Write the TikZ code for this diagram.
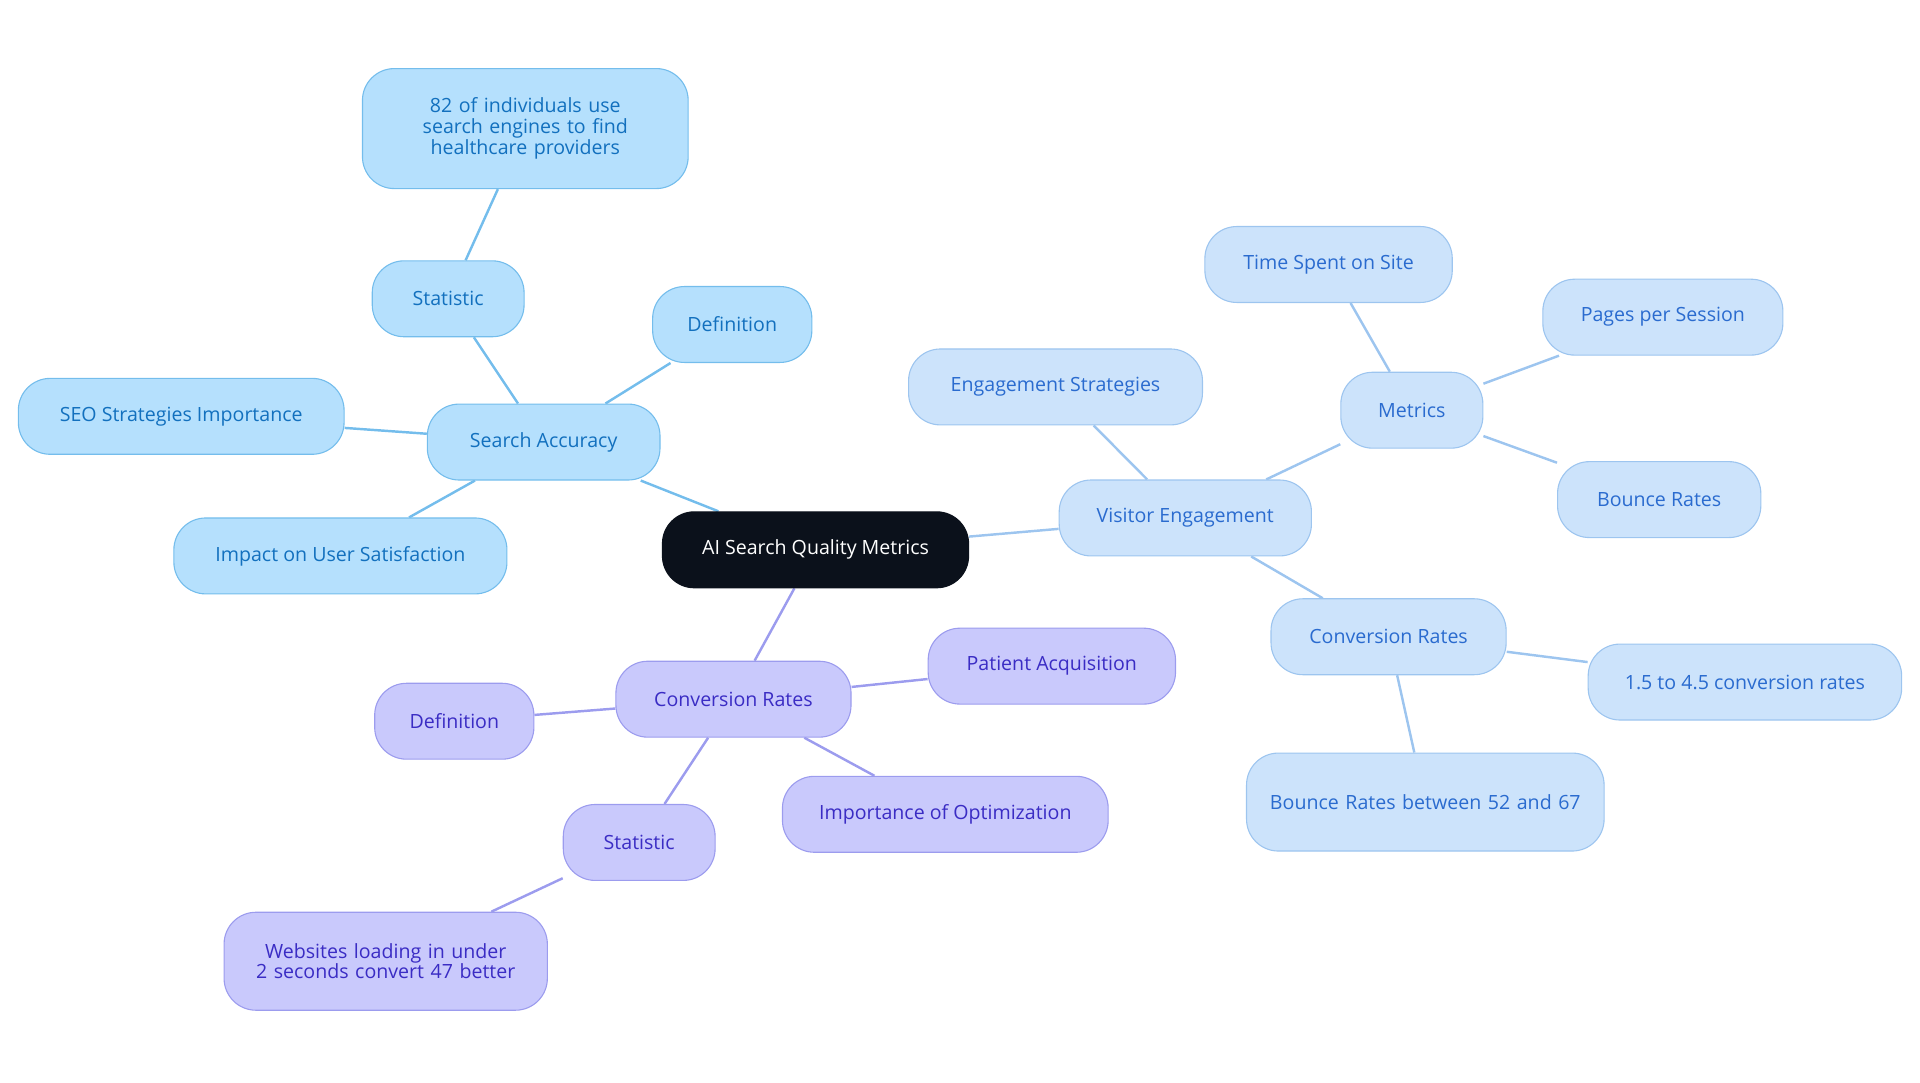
\documentclass[tikz,border=0pt]{standalone}
\usepackage{fontspec}
\setmainfont{Open Sans}
\definecolor{bF}{HTML}{B5E0FD}\definecolor{bD}{HTML}{74BDEC}\definecolor{bT}{HTML}{1270BE}
\definecolor{eF}{HTML}{CCE3FB}\definecolor{eD}{HTML}{9DC5EF}\definecolor{eT}{HTML}{2A6BCF}
\definecolor{pF}{HTML}{C9C9FC}\definecolor{pD}{HTML}{9C9CEE}\definecolor{pT}{HTML}{3A2CC4}
\definecolor{rF}{HTML}{0B111B}
\begin{document}
\begin{tikzpicture}[x=1pt,y=-1pt,
 box/.style={rounded corners=26pt,line width=0.9pt,minimum height=62pt,align=center,font=\fontsize{16}{17}\selectfont,inner sep=4pt},
 bn/.style={box,fill=bF,draw=bD,text=bT},
 en/.style={box,fill=eF,draw=eD,text=eT},
 pn/.style={box,fill=pF,draw=pD,text=pT},
 bl/.style={draw=bD,line width=2pt},
 el/.style={draw=eD,line width=2pt},
 pl/.style={draw=pD,line width=2pt}]
\useasboundingbox (0,0) rectangle (1568,884);
\node[box,fill=rF,draw=rF,text=white,minimum width=250pt] (root) at (666,449) {AI Search Quality Metrics};
\node[bn,minimum width=190pt] (sa) at (444,361) {Search Accuracy};
\node[bn,minimum width=124pt] (st) at (366,244) {Statistic};
\node[bn,minimum width=266pt,minimum height=98pt,text width=240pt] (s82) at (429,105) {82 of individuals use search engines to find healthcare providers};
\node[bn,minimum width=130pt] (def) at (598,265) {Definition};
\node[bn,minimum width=266pt] (seo) at (148,340) {SEO Strategies Importance};
\node[bn,minimum width=272pt] (imp) at (278,454) {Impact on User Satisfaction};
\node[en,minimum width=206pt] (ve) at (968,423) {Visitor Engagement};
\node[en,minimum width=240pt] (es) at (862,316) {Engagement Strategies};
\node[en,minimum width=116pt] (me) at (1153,335) {Metrics};
\node[en,minimum width=202pt] (ts) at (1085,216) {Time Spent on Site};
\node[en,minimum width=196pt] (pps) at (1358,259) {Pages per Session};
\node[en,minimum width=166pt] (br) at (1355,408) {Bounce Rates};
\node[en,minimum width=192pt] (crr) at (1134,520) {Conversion Rates};
\node[en,minimum width=256pt] (c15) at (1425,557) {1.5 to 4.5 conversion rates};
\node[en,minimum width=292pt,minimum height=80pt,text width=260pt] (bb) at (1164,655) {Bounce Rates between 52 and 67};
\node[pn,minimum width=192pt] (crl) at (599,571) {Conversion Rates};
\node[pn,minimum width=202pt] (pa) at (859,544) {Patient Acquisition};
\node[pn,minimum width=130pt] (dl) at (371,589) {Definition};
\node[pn,minimum width=266pt] (io) at (772,665) {Importance of Optimization};
\node[pn,minimum width=124pt] (sl) at (522,688) {Statistic};
\node[pn,minimum width=264pt,minimum height=80pt,text width=240pt] (web) at (315,785) {Websites loading in under 2 seconds convert 47 better};
\begin{scope}[on background layer/.style={}]
\end{scope}
\pgfdeclarelayer{bg}\pgfsetlayers{bg,main}
\begin{pgfonlayer}{bg}
\draw[bl] (root)--(sa); \draw[bl] (sa)--(st); \draw[bl] (st)--(s82); \draw[bl] (sa)--(def); \draw[bl] (sa)--(seo); \draw[bl] (sa)--(imp);
\draw[el] (root)--(ve); \draw[el] (ve)--(es); \draw[el] (ve)--(me); \draw[el] (me)--(ts); \draw[el] (me)--(pps); \draw[el] (me)--(br); \draw[el] (ve)--(crr); \draw[el] (crr)--(c15); \draw[el] (crr)--(bb);
\draw[pl] (root)--(crl); \draw[pl] (crl)--(pa); \draw[pl] (crl)--(dl); \draw[pl] (crl)--(io); \draw[pl] (crl)--(sl); \draw[pl] (sl)--(web);
\end{pgfonlayer}
\end{tikzpicture}
\end{document}
